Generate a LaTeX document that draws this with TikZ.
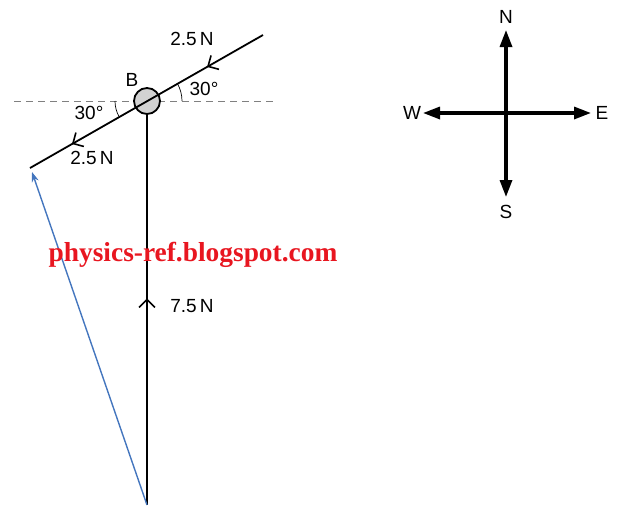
\documentclass[tikz,border=0pt]{standalone}
\usepackage{fontspec}
\setmainfont{Liberation Sans}
\newfontfamily\markfont{Liberation Serif}
\usetikzlibrary{arrows.meta,decorations.markings}
\definecolor{vecblue}{RGB}{68,118,190}
\definecolor{markred}{RGB}{232,22,32}

\begin{document}
\begin{tikzpicture}[x=1pt,y=-1pt,line width=1.8pt,
  lbl/.style={font=\fontsize{19}{22}\selectfont,inner sep=0pt},
  barb/.tip={Straight Barb[length=8pt,width=16pt,line width=1.6pt]},
  comp/.style={line width=3.2pt,-{Triangle[length=17pt,width=12pt]}}]

\useasboundingbox (0,0) rectangle (627,512);

\coordinate (up) at (263,35);
\coordinate (lo) at (30,168);
\coordinate (bot) at (147,505);
\coordinate (tip) at (32,172);
\coordinate (dl) at (14,101);
\coordinate (dr) at (277,101);

\draw[gray,line width=0.9pt,dash pattern=on 7pt off 5pt] (dl) -- (dr);

\node[draw,circle,fill=gray!35,minimum size=26pt,inner sep=0pt] (B) at (147,101) {};

\draw[postaction={decorate},decoration={markings,
  mark=at position 0.24 with {\arrow{barb}},
  mark=at position 0.82 with {\arrow{barb}}}] (up) -- (lo);
\draw[postaction={decorate},decoration={markings,
  mark=at position 0.53 with {\arrow{barb}}}] (bot) -- (B);
\draw[vecblue,line width=1.4pt,-{Stealth[length=10pt,width=7pt]}] (bot) -- (tip);

\draw[line width=0.7pt] (B.center) ++(0:35) arc[start angle=0,end angle=-30,radius=35];
\draw[line width=0.7pt] (B.center) ++(180:32) arc[start angle=180,end angle=150,radius=32];

\node[lbl] (fup) at (192,39) {2.5\,N};
\node[lbl] (flo) at (92,158) {2.5\,N};
\node[lbl] (fv) at (192,306) {7.5\,N};
\node[lbl] (lb) at (132,80) {B};
\node[lbl] (ar) at (204,89) {30°};
\node[lbl] (al) at (89,113) {30°};

\node[font=\markfont\bfseries\fontsize{27.4}{30}\selectfont,text=markred,inner sep=0pt] (wm) at (193,255) {physics-ref.blogspot.com};

\coordinate (O) at (506,113);
\coordinate (n) at (506,30);
\coordinate (s) at (506,197);
\coordinate (w) at (423,113);
\coordinate (e) at (591,113);
\draw[comp] (O) -- (n);
\draw[comp] (O) -- (s);
\draw[comp] (O) -- (w);
\draw[comp] (O) -- (e);

\node[lbl] (ln) at (506,17) {N};
\node[lbl] (ls) at (506,212) {S};
\node[lbl] (lw) at (412,113) {W};
\node[lbl] (le) at (602,113) {E};
\end{tikzpicture}
\end{document}
